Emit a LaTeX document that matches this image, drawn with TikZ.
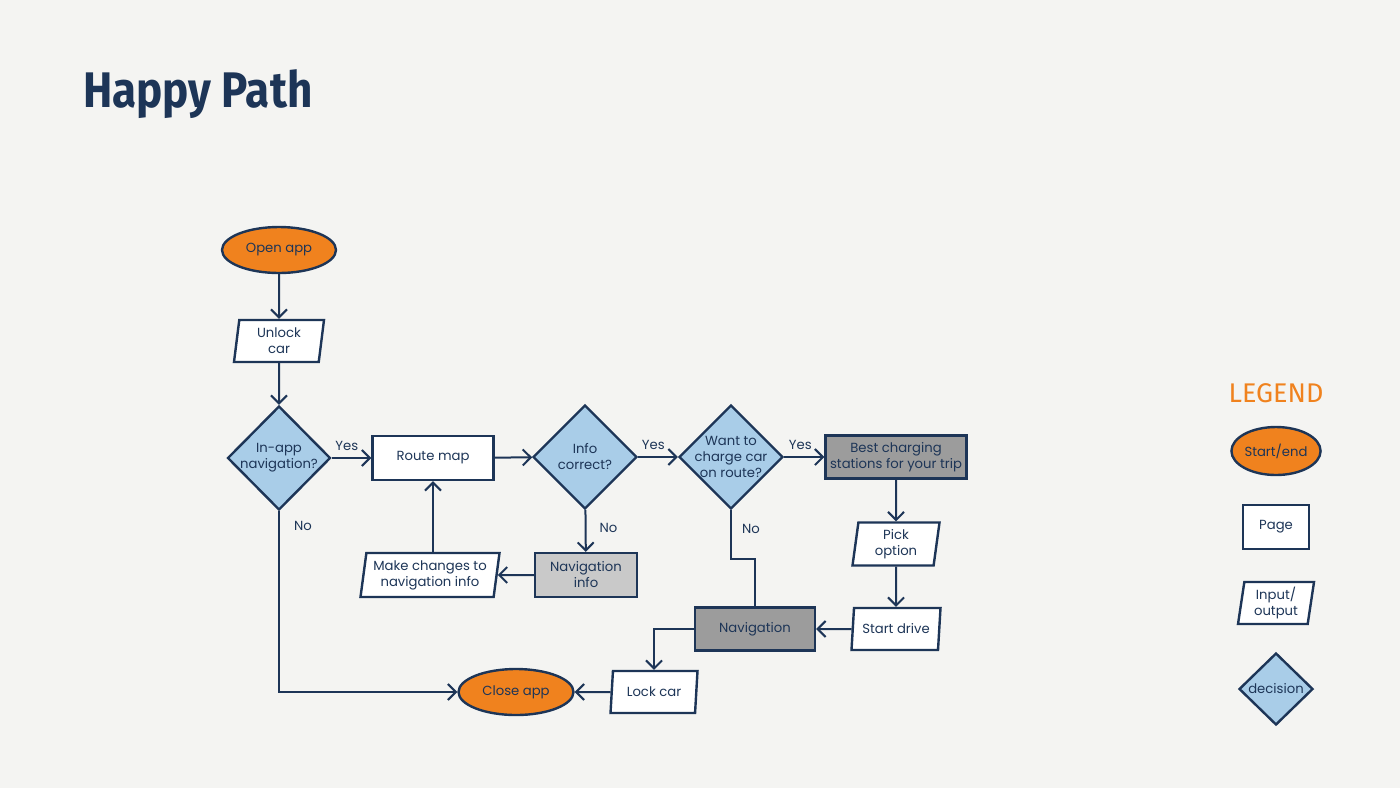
\documentclass[tikz,border=0pt]{standalone}
\usepackage{fontspec}
\setmainfont{Poppins}
\newfontfamily\titlefont[FakeStretch=0.88]{Fira Sans}
\newfontfamily\legendfont{Fira Sans}
\usepackage{tikz}
\usetikzlibrary{arrows.meta, shapes.geometric}

\definecolor{navy}{HTML}{1D3557}
\definecolor{paper}{HTML}{F4F4F2}
\definecolor{orng}{HTML}{F0821E}
\definecolor{skyblue}{HTML}{A9CDE8}
\definecolor{darkgrey}{HTML}{9C9C9C}
\definecolor{lightgrey}{HTML}{C9C9C9}

\begin{document}
\begin{tikzpicture}[
        x = 0.5pt, y = -0.5pt, % one unit per pixel, y down
        > = {Straight Barb[length=4pt, width=8pt]}, % arrow head style
        line width = 1pt, % line style
        font = \fontsize{6.6}{8}\selectfont,
        text = navy
    ]

    \tikzstyle{base}=[
        draw = navy,
        line width = 1.2pt,
        align = center,
        inner sep = 1pt,
        text = navy
    ]
    \tikzstyle{terminal}=[base, ellipse, inner sep = 0pt, fill = orng]
    \tikzstyle{page}=[base, rectangle, fill = white]
    \tikzstyle{io}=[base, trapezium, trapezium left angle = 80,
        trapezium right angle = 100, trapezium stretches body, fill = white]
    \tikzstyle{decision}=[base, diamond, inner sep = -6pt, fill = skyblue]
    \tikzstyle{lbl}=[inner sep = 1pt, text = navy]
    \tikzstyle{link}=[draw = navy, line width = 1pt]

    % background and headings
    \fill[paper] (0,0) rectangle (1400,788);
    \node[anchor = base west, inner sep = 0pt, text = navy,
        font = \titlefont\bfseries\fontsize{25}{30}\selectfont] (title) at (82,107) {Happy Path};
    \node[text = orng, font = \legendfont\fontsize{13.5}{16}\selectfont] (legend) at (1276,393) {LEGEND};

    % flow
    \node[terminal, minimum width = 57pt, minimum height = 23pt] (open) at (279,250) {Open app};
    \node[io, minimum width = 45pt, minimum height = 21pt] (unlock) at (279,341) {Unlock\\car};
    \node[decision, minimum width = 51.5pt, minimum height = 52pt] (inapp) at (279,458) {In-app\\navigation?};
    \node[page, minimum width = 60.5pt, minimum height = 22pt] (route) at (433,458) {Route map};
    \node[decision, minimum width = 52pt, minimum height = 52pt] (info) at (585,457) {Info\\correct?};
    \node[decision, minimum width = 52pt, minimum height = 52pt] (charge) at (731,457) {Want to\\charge car\\on route?};
    \node[page, fill = darkgrey, minimum width = 70.5pt, minimum height = 21.5pt] (best) at (896,457) {Best charging\\stations for your trip};
    \node[io, minimum width = 43.5pt, minimum height = 21.5pt] (pick) at (896,544) {Pick\\option};
    \node[io, minimum width = 44.5pt, minimum height = 21pt] (start) at (896,629) {Start drive};
    \node[page, fill = darkgrey, minimum width = 60pt, minimum height = 21.5pt] (nav) at (755,629) {Navigation};
    \node[io, minimum width = 43.5pt, minimum height = 21pt] (lock) at (654,692) {Lock car};
    \node[terminal, minimum width = 57.5pt, minimum height = 23pt] (close) at (516,692) {Close app};
    \node[page, fill = lightgrey, minimum width = 51pt, minimum height = 22pt] (navinfo) at (586,575) {Navigation\\info};
    \node[io, minimum width = 69.5pt, minimum height = 22pt] (changes) at (430,575) {Make changes to\\navigation info};

    \path[link, ->] (open) -- (unlock);
    \path[link, ->] (unlock) -- (inapp);
    \path[link, ->] (inapp) -- node[lbl, above = 2pt, pos = 0.38] {Yes} (route);
    \path[link, ->] (inapp.south) |- node[lbl, right = 6pt, pos = 0.04] {No} (close.west);
    \path[link, ->] (route) -- (info);
    \path[link, ->] (info) -- node[lbl, above = 2pt, pos = 0.38] {Yes} (charge);
    \path[link, ->] (charge) -- node[lbl, above = 2pt, pos = 0.4] {Yes} (best);
    \path[link, ->] (info) -- node[lbl, right = 5.5pt, pos = 0.43] {No} (navinfo);
    \path[link, ->] (navinfo) -- (changes);
    \path[link, ->] (route.south |- changes.north) -- (route.south);
    \path[link] (charge.south) -- node[lbl, right = 4pt, pos = 0.39] {No} ++(0,49) -| (nav.north);
    \path[link, ->] (best) -- (pick);
    \path[link, ->] (pick) -- (start);
    \path[link, ->] (start) -- (nav);
    \path[link, ->] (nav.west) -| (lock.north);
    \path[link, ->] (lock) -- (close);

    % legend
    \node[terminal, minimum width = 43pt, minimum height = 24pt] (keyend) at (1276,451) {Start/end};
    \node[page, minimum width = 33pt, minimum height = 22pt] (keypage) at (1276,527) {Page};
    \node[io, minimum width = 38pt, minimum height = 21pt] (keyio) at (1276,603) {Input/\\output};
    \node[decision, minimum width = 37pt, minimum height = 36pt] (keydec) at (1276,689) {decision};

\end{tikzpicture}
\end{document}
